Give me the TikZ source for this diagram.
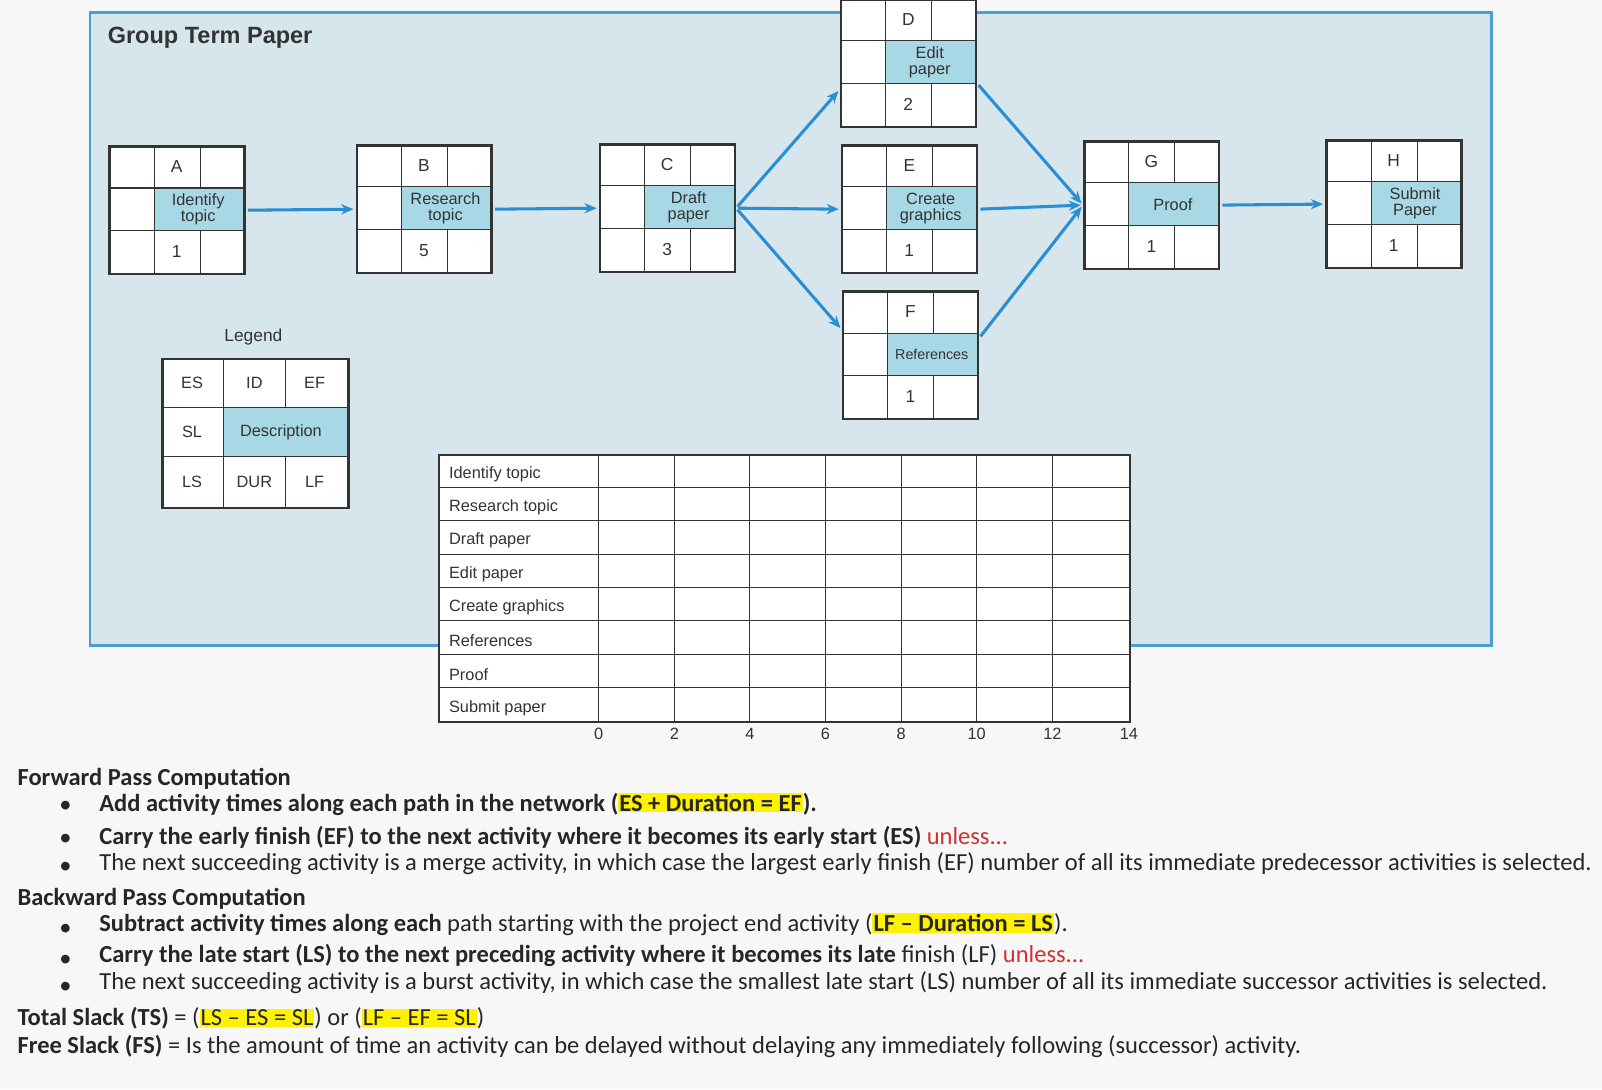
\documentclass[tikz,border=0pt]{standalone}
\usepackage{fontspec}
\setmainfont{Carlito}
\newfontfamily\diag{Liberation Sans}
\usetikzlibrary{arrows.meta}
\definecolor{panel}{HTML}{D6E6EC}
\definecolor{pborder}{HTML}{4A9FD4}
\definecolor{cyanc}{HTML}{A8D8E6}
\definecolor{arr}{HTML}{2A8FD2}
\definecolor{ink}{HTML}{333333}
\definecolor{redt}{HTML}{D03030}
\newcommand\hl[1]{{\setlength{\fboxsep}{1pt}\colorbox{yellow}{#1}}}
\newcommand\actbox[6]{%
  \fill[cyanc] (#2+45,#3+42) rectangle (#2+132,#3+84);
  \fill[white] (#2,#3) rectangle (#2+45,#3+125);
  \fill[white] (#2+45,#3) rectangle (#2+132,#3+42);
  \fill[white] (#2+45,#3+84) rectangle (#2+132,#3+125);
  \fill[white] (#2+90,#3+84) rectangle (#2+132,#3+125);
  \draw[ink,line width=1pt] (#2+45,#3)--(#2+45,#3+125) (#2+90,#3)--(#2+90,#3+42) (#2+90,#3+84)--(#2+90,#3+125)
     (#2,#3+42)--(#2+132,#3+42) (#2,#3+84)--(#2+132,#3+84);
  \node[draw=ink,line width=2.5pt,minimum width=132pt,minimum height=125pt,anchor=north west,inner sep=0pt] (#1) at (#2,#3) {};
  \node[font=\diag\fontsize{17}{17}\selectfont,text=ink] at (#2+67,#3+21) {#4};
  \node[font=\diag\fontsize{16}{16}\selectfont,text=ink,align=center,inner sep=0pt] at (#2+88,#3+63) {#5};
  \node[font=\diag\fontsize{17}{17}\selectfont,text=ink] at (#2+67,#3+104) {#6};
}
\begin{document}
\begin{tikzpicture}[x=1pt,y=-1pt]
\useasboundingbox (0,0) rectangle (1568,1066);
\fill[white!94!gray] (0,0) rectangle (1568,1066);
\draw[pborder,fill=panel,line width=2.5pt] (88,12) rectangle (1460,632);
\node[font=\diag\bfseries\fontsize{23}{23}\selectfont,text=ink,anchor=west] (title) at (102,37) {Group Term Paper};
\actbox{A}{106}{142}{A}{Identify\\topic}{1}
\actbox{B}{348}{141}{B}{Research\\topic}{5}
\actbox{C}{586}{140}{C}{Draft\\paper}{3}
\actbox{D}{822}{-2}{D}{Edit\\paper}{2}
\actbox{E}{823}{141}{E}{Create\\graphics}{1}
\actbox{F}{824}{284}{F}{\fontsize{14}{14}\selectfont References}{1}
\actbox{G}{1060}{137}{G}{Proof}{1}
\actbox{H}{1297}{136}{H}{Submit\\Paper}{1}
\begin{scope}[arr,line width=3pt,-{Stealth[length=12pt,width=10pt]},shorten <=2pt,shorten >=2pt]
\draw (A.east)--(B.west);
\draw (B.east)--(C.west);
\draw (C.east)--([yshift=38pt]D.south west);
\draw (C.east)--(E.west);
\draw (C.east)--([yshift=25pt]F.west);
\draw ([yshift=-20pt]D.east)--(G.west);
\draw (E.east)--(G.west);
\draw ([yshift=17pt]F.east)--(G.west);
\draw (G.east)--(H.west);
\end{scope}
% legend
\node[font=\diag\fontsize{17}{17}\selectfont,text=ink] (leg) at (248,330) {Legend};
\fill[white] (158,350) rectangle (340,496);
\fill[cyanc] (219,399) rectangle (340,447);
\draw[ink,line width=1pt] (219,350)--(219,496) (279,350)--(279,399) (279,447)--(279,496) (158,399)--(340,399) (158,447)--(340,447);
\node[draw=ink,line width=2.5pt,minimum width=182pt,minimum height=146pt,anchor=north west,inner sep=0pt] (legbox) at (158,350) {};
\begin{scope}[font=\diag\fontsize{16}{16}\selectfont,text=ink]
\node at (188,375) {ES}; \node at (249,375) {ID}; \node at (308,375) {EF};
\node at (188,423) {SL}; \node at (275,423) {Description};
\node at (188,472) {LS}; \node at (249,472) {DUR}; \node at (308,472) {LF};
\end{scope}
% gantt
\fill[white] (429,444) rectangle (1105,706);
\foreach \i in {1,...,7} \draw[ink,line width=1pt] (429,444+32.75*\i)--(1105,444+32.75*\i);
\foreach \x in {586,660,734,808,882,956,1030} \draw[ink,line width=1pt] (\x,444)--(\x,706);
\node[draw=ink,line width=2pt,minimum width=676pt,minimum height=262pt,anchor=north west,inner sep=0pt] (gantt) at (429,444) {};
\foreach \t [count=\i] in {Identify topic,Research topic,Draft paper,Edit paper,Create graphics,References,Proof,Submit paper}
  \node[font=\diag\fontsize{16}{16}\selectfont,text=ink,anchor=west] at (436,444+32.75*\i-13) {\t};
\foreach \x/\l in {586/0,660/2,734/4,808/6,882/8,956/10,1030/12,1105/14}
  \node[font=\diag\fontsize{16}{16}\selectfont,text=ink] at (\x,718) {\l};
% text
\begin{scope}[font=\fontsize{24}{24}\selectfont,text=black!85,anchor=west,inner sep=0pt]
\node (t1) at (17,762) {\bfseries Forward Pass Computation};
\node (t2) at (97,787) {\bfseries Add activity times along each path in the network (\hl{ES + Duration = EF}).};
\node (t3) at (97,820) {\bfseries Carry the early finish (EF) to the next activity where it becomes its early start (ES) \mdseries\textcolor{redt}{unless...}};
\node (t4) at (97,845) {The next succeeding activity is a merge activity, in which case the largest early finish (EF) number of all its immediate predecessor activities is selected.};
\node (t5) at (17,880) {\bfseries Backward Pass Computation};
\node (t6) at (97,905) {\bfseries Subtract activity times along each \mdseries path starting with the project end activity (\hl{\bfseries LF -- Duration = LS}).};
\node (t7) at (97,935) {\bfseries Carry the late start (LS) to the next preceding activity where it becomes its late \mdseries finish (LF) \textcolor{redt}{unless...}};
\node (t8) at (97,962) {The next succeeding activity is a burst activity, in which case the smallest late start (LS) number of all its immediate successor activities is selected.};
\node (t9) at (17,997) {\bfseries Total Slack (TS) \mdseries = (\hl{LS -- ES = SL}) or (\hl{LF -- EF = SL})};
\node (t10) at (17,1024) {\bfseries Free Slack (FS) \mdseries = Is the amount of time an activity can be delayed without delaying any immediately following (successor) activity.};
\foreach \y in {790,822,849,910,940,967} \node at (58,\y) {\textbullet};
\end{scope}
\end{tikzpicture}
\end{document}
